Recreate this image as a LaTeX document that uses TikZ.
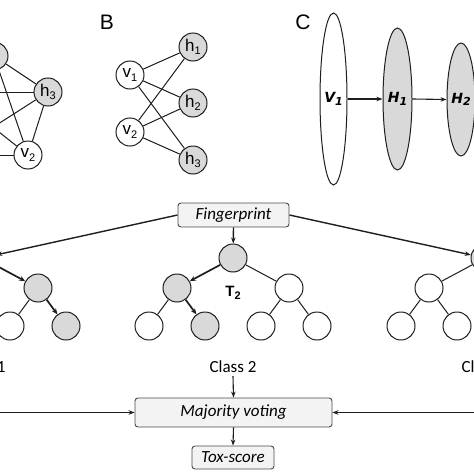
\documentclass[tikz,border=0pt]{standalone}
\usepackage{fontspec}
\setmainfont{Carlito}
\newfontfamily\arialf{Liberation Sans}
\newfontfamily\dejaf{DejaVu Sans}
\usetikzlibrary{arrows.meta,shapes.geometric}
\definecolor{nodegray}{RGB}{217,217,217}
\definecolor{boxgray}{RGB}{243,243,243}
\definecolor{ink}{RGB}{30,30,30}
\newcommand\lowidx[1]{\raisebox{-0.35ex}{\fontsize{11}{11}\selectfont #1}}
\begin{document}
\begin{tikzpicture}[x=1pt,y=-1pt,
  unit/.style={circle,draw=ink,line width=1pt,minimum size=28pt,inner sep=0pt,
    font=\arialf\fontsize{17}{17}\selectfont},
  hid/.style={unit,fill=nodegray},
  vis/.style={unit,fill=white},
  edge/.style={draw=ink,line width=1pt},
  arr/.style={draw=ink,line width=1.1pt,-{Stealth[length=6pt,width=4.5pt]}},
  path/.style={draw=ink,line width=1.7pt,-{Stealth[length=6pt,width=5pt]}},
  layer/.style={ellipse,draw=ink,line width=1pt,inner sep=0pt,
    font=\dejaf\bfseries\itshape\fontsize{14}{14}\selectfont},
  panel/.style={font=\arialf\fontsize{21}{21}\selectfont},
  box/.style={rectangle,rounded corners=3pt,draw=ink!80,line width=0.9pt,fill=boxgray,
    inner sep=0pt,font=\itshape\fontsize{17}{17}\selectfont},
  cls/.style={font=\fontsize{17}{17}\selectfont,inner sep=3pt},
  tlabel/.style={font=\arialf\bfseries\fontsize{15}{15}\selectfont}
]
\useasboundingbox (0,0) rectangle (474,474);
\fill[white] (0,0) rectangle (474,474);
\clip (0,0) rectangle (474,474);

% ---------- Panel A (cut at left edge) ----------
\coordinate (aL1) at (-30,92);
\coordinate (aL2) at (-30,142);
\coordinate (aL3) at (-30,109);
\coordinate (aL4) at (-30,155);
\node[hid] (A1) at (-6,56) {};
\node[hid] (Ah3) at (48,92) {h\lowidx{3}};
\node[vis] (Av2) at (28,155) {v\lowidx{2}};
\draw[edge] (A1) -- (Ah3);
\draw[edge] (A1) -- (Av2);
\draw[edge] (aL1) -- (Ah3);
\draw[edge] (aL2) -- (Ah3);
\draw[edge] (aL3) -- (Av2);
\draw[edge] (aL4) -- (Av2);
\draw[edge] (Ah3) -- (Av2);

% ---------- Panel B ----------
\node[panel] (labB) at (107,22) {B};
\node[vis] (Bv1) at (130,75) {v\lowidx{1}};
\node[vis] (Bv2) at (130,132) {v\lowidx{2}};
\node[hid] (Bh1) at (193,47) {h\lowidx{1}};
\node[hid] (Bh2) at (193,103) {h\lowidx{2}};
\node[hid] (Bh3) at (193,160) {h\lowidx{3}};
\foreach \v in {Bv1,Bv2}{
  \foreach \h in {Bh1,Bh2,Bh3}{
    \draw[edge] (\v) -- (\h);
  }
}

% ---------- Panel C ----------
\node[panel] (labC) at (303,22) {C};
\node[layer,fill=white,minimum width=27pt,minimum height=172pt] (CV1) at (333.5,99) {V\lowidx{1}};
\node[layer,fill=nodegray,minimum width=29pt,minimum height=142pt] (CH1) at (397.5,99) {H\lowidx{1}};
\node[layer,fill=nodegray,minimum width=28pt,minimum height=113pt] (CH2) at (461,99.5) {H\lowidx{2}};
\draw[arr] (CV1.east) -- (CH1.west);
\draw[arr] (CH1.east) -- (CH2.west);

% ---------- Random forest ----------
\node[box,minimum width=111pt,minimum height=24pt] (fp) at (233.5,215) {Fingerprint};

% Tree 1 (root off the left edge)
\node[hid] (t1r) at (-18,258) {};
\node[hid] (t1b) at (38,288) {};
\node[vis] (t1ba) at (10,326) {};
\node[hid] (t1bb) at (66,326) {};
\draw[arr,line width=1.4pt] (fp.west) -- (t1r);
\draw[path] (t1r) -- (t1b);
\draw[path] (t1b) -- (t1bb);
\draw[edge] (t1b) -- (t1ba);

% Tree 2
\node[hid] (t2r) at (233,258) {};
\node[hid] (t2a) at (177,288) {};
\node[vis] (t2b) at (289,288) {};
\node[vis] (t2aa) at (149,326) {};
\node[hid] (t2ab) at (205,326) {};
\node[vis] (t2ba) at (261,326) {};
\node[vis] (t2bb) at (317,326) {};
\draw[arr,line width=1.4pt] (fp.south) -- (t2r);
\draw[path] (t2r) -- (t2a);
\draw[path] (t2a) -- (t2ab);
\draw[edge] (t2r) -- (t2b);
\draw[edge] (t2a) -- (t2aa);
\draw[edge] (t2b) -- (t2ba);
\draw[edge] (t2b) -- (t2bb);
\node[tlabel] (T2lab) at (233,293) {T\lowidx{2}};

% Tree 3 (root at the right edge)
\node[hid] (t3r) at (485,258) {};
\node[vis] (t3a) at (429,288) {};
\node[vis] (t3aa) at (401,326) {};
\node[vis] (t3ab) at (457,326) {};
\draw[arr,line width=1.4pt] (fp.east) -- (t3r);
\draw[edge] (t3r) -- (t3a);
\draw[edge] (t3a) -- (t3aa);
\draw[edge] (t3a) -- (t3ab);

% Classes and voting
\node[cls] (c1) at (-18,367) {Class 1};
\node[cls] (c2) at (233,367) {Class 2};
\node[cls] (c3) at (485,367) {Class 3};
\node[box,minimum width=197pt,minimum height=29pt] (mv) at (233.5,412.5) {Majority voting};
\node[box,minimum width=82pt,minimum height=23pt] (tox) at (233,457.5) {Tox-score};
\draw[arr] (c2.south) -- (mv.north);
\draw[arr] (c1.south) |- (mv.west);
\draw[arr] (c3.south) |- (mv.east);
\draw[arr] (mv.south) -- (tox.north);
\end{tikzpicture}
\end{document}
